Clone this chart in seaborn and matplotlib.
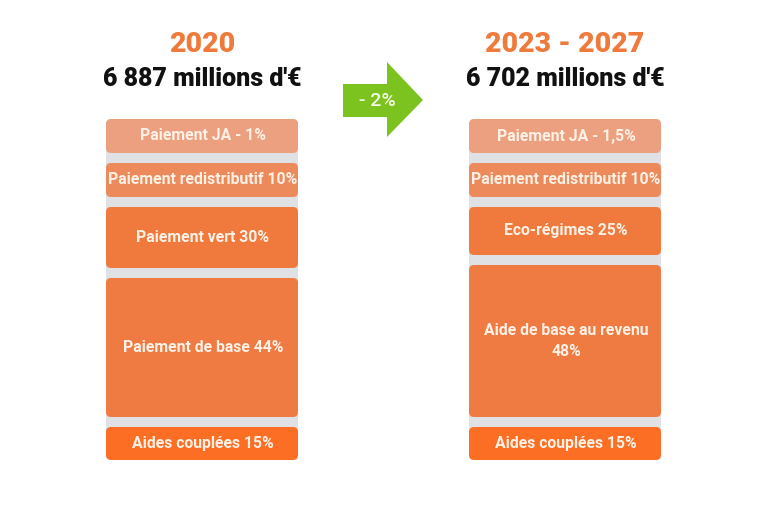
import matplotlib.pyplot as plt
import matplotlib.patches as patches
import seaborn as sns

# Data
years = ["2020", "2023 - 2027"]
totals = ["6 887 millions d'€", "6 702 millions d'€"]
change = "- 2%"
labels_2020 = ["Paiement JA - 1%", "Paiement redistributif 10%", "Paiement vert 30%",
               "Paiement de base 44%", "Aides couplées 15%"]
labels_2327 = ["Paiement JA - 1,5%", "Paiement redistributif 10%", "Eco-régimes 25%",
               "Aide de base au revenu\n48%", "Aides couplées 15%"]
pct_2020 = [1, 10, 30, 44, 15]
pct_2327 = [1.5, 10, 25, 48, 15]

# Layout (box heights in px, as drawn in the infographic)
box_h_2020 = [34, 34, 61, 139, 33]
box_h_2327 = [34, 34, 48, 152, 33]
box_colors = ["#eca07f", "#ec8a5b", "#f07a3d", "#ef7a42", "#fb6e24"]
gap = 10
col_left = [106, 469]
col_w = 192
top = 119

sns.set_theme(style="white")
plt.rcParams['font.family'] = ['Roboto', 'DejaVu Sans']

fig = plt.figure(figsize=(7.68, 5.12), dpi=100)
ax = fig.add_axes([0, 0, 1, 1])
ax.set_xlim(0, 768)
ax.set_ylim(512, 0)
ax.axis("off")

for x0, year, total, labels, heights in zip(col_left, years, totals,
                                            [labels_2020, labels_2327],
                                            [box_h_2020, box_h_2327]):
    cx = x0 + col_w / 2
    ax.text(cx, 44, year, ha="center", va="center", fontsize=20.5,
            fontweight="heavy", color="#ee7b3b")
    ax.text(cx, 79, total, ha="center", va="center", fontsize=18,
            fontweight="heavy", color="#111111")
    total_h = sum(heights) + gap * (len(heights) - 1)
    ax.add_patch(patches.Rectangle((x0, top + 3), col_w, total_h - 6,
                                   facecolor="#dfe1e4", edgecolor="none"))
    y = top
    for lab, h, c in zip(labels, heights, box_colors):
        ax.add_patch(patches.FancyBboxPatch((x0, y), col_w, h,
                                            boxstyle="round,pad=0,rounding_size=5",
                                            facecolor=c, edgecolor="none"))
        ax.text(cx + 1, y + h / 2, lab, ha="center", va="center", fontsize=11.3,
                fontweight="bold", color="#fdf1e6", linespacing=1.5)
        y += h + gap

# green arrow
arrow = patches.Polygon([(343, 84), (387, 84), (387, 62), (423, 100),
                         (387, 137), (387, 117), (343, 117)],
                        closed=True, facecolor="#7dc31f", edgecolor="none",
                        joinstyle="round")
ax.add_patch(arrow)
ax.text(377, 101, change, ha="center", va="center", fontsize=14,
        color="#f4fbe8", fontweight="medium")

fig.savefig("out.png", dpi=100)
